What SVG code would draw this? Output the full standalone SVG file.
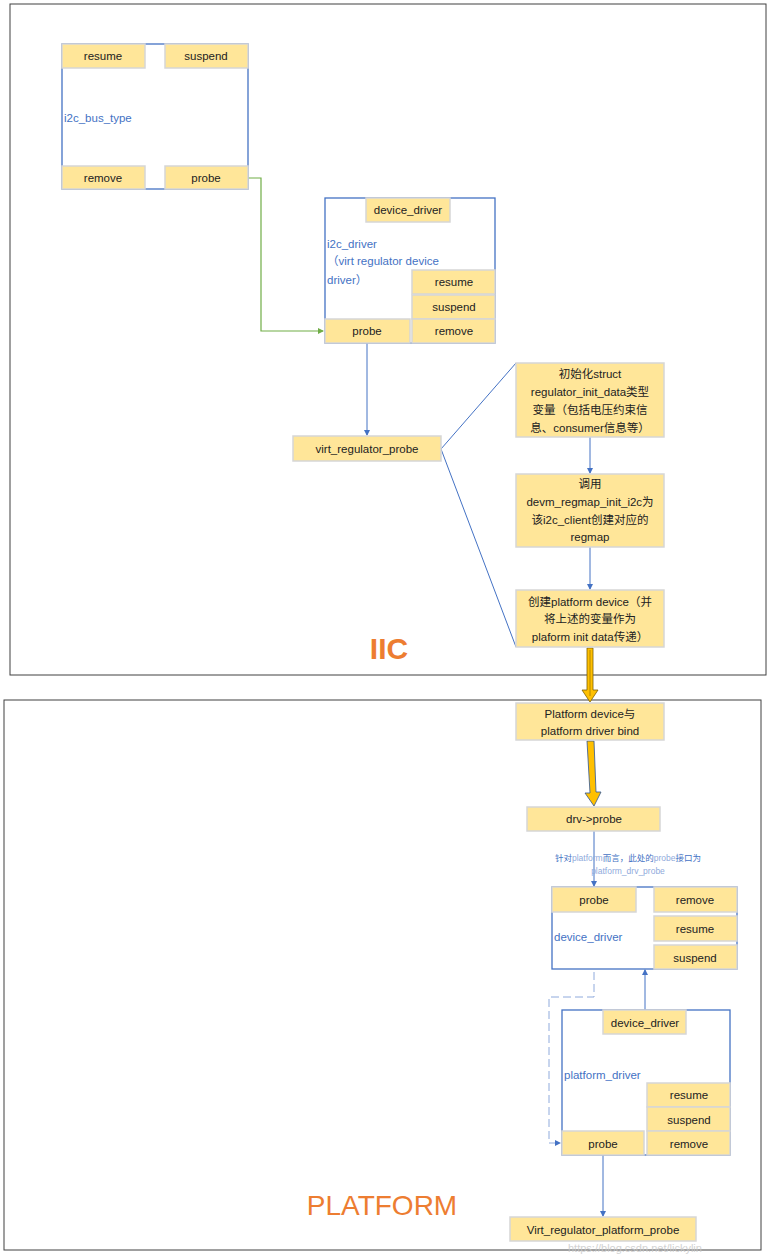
<svg xmlns="http://www.w3.org/2000/svg" width="769" height="1254" viewBox="0 0 769 1254">
<defs>
<style>
.frame{fill:none;stroke:#404040;stroke-width:1}
.cont{fill:#fff;stroke:#4472C4;stroke-width:1.3}
.box{fill:#FFE699;stroke:#D6D6D6;stroke-width:1.5}
.t{font-family:"Liberation Sans","Noto Sans CJK SC",sans-serif;font-size:11.5px;fill:#222;text-anchor:middle}
.lbl{font-family:"Liberation Sans","Noto Sans CJK SC",sans-serif;font-size:11.5px;fill:#4472C4}
.ln{fill:none;stroke:#4472C4;stroke-width:1}
</style>
<marker id="a" markerWidth="6" markerHeight="6" refX="5" refY="3" orient="auto" markerUnits="userSpaceOnUse"><path d="M0,0 L6,3 L0,6 z" fill="#4472C4"/></marker>
<marker id="g" markerWidth="6" markerHeight="6" refX="5" refY="3" orient="auto" markerUnits="userSpaceOnUse"><path d="M0,0 L6,3 L0,6 z" fill="#70AD47"/></marker>
</defs>
<rect width="769" height="1254" fill="#fff"/>
<rect class="frame" x="10" y="4" width="756" height="671"/>
<rect class="frame" x="4" y="700" width="757" height="550"/>
<text x="389" y="659" font-family="Liberation Sans,sans-serif" font-size="30" font-weight="bold" fill="#ED7D31" text-anchor="middle">IIC</text>
<text x="382" y="1215" font-family="Liberation Sans,sans-serif" font-size="28" fill="#ED7D31" text-anchor="middle">PLATFORM</text>

<g id="connectors">
<polyline points="248,178 261,178 261,331 323,331" fill="none" stroke="#70AD47" stroke-width="1.2" marker-end="url(#g)"/>
<line class="ln" x1="367" y1="343" x2="367" y2="435" marker-end="url(#a)"/>
<line class="ln" x1="441" y1="449" x2="516" y2="363"/>
<line class="ln" x1="441" y1="449" x2="516" y2="647"/>
<line class="ln" x1="590" y1="437" x2="590" y2="473" marker-end="url(#a)"/>
<line class="ln" x1="590" y1="547" x2="590" y2="589" marker-end="url(#a)"/>
<path d="M587,648 L593,648 L593,690 L598,690 L590,702 L582,690 L587,690 z" fill="#FFC000" stroke="#7F6000" stroke-width="0.8"/>
<line x1="590" y1="650" x2="590" y2="696" stroke="#7F6000" stroke-width="0.6"/>
<path d="M587,741 L594,741 L596,792 L601,792 L594,806 L585,793 L590,793 z" fill="#FFC000" stroke="#2F5597" stroke-width="0.8"/>
<line class="ln" x1="594" y1="831" x2="594" y2="886" marker-end="url(#a)"/>
<line class="ln" x1="645" y1="1010" x2="645" y2="970" marker-end="url(#a)"/>
<polyline points="594,912 594,997 549,997 549,1143 560,1143" fill="none" stroke="#8FAADC" stroke-width="1" stroke-dasharray="8,4" marker-end="url(#a)"/>
<line class="ln" x1="603" y1="1155" x2="603" y2="1216" marker-end="url(#a)"/>
<text x="628" y="861" font-family="Liberation Sans,Noto Sans CJK SC,sans-serif" font-size="8.5" text-anchor="middle"><tspan fill="#4472C4">针对</tspan><tspan fill="#8FAADC">platform</tspan><tspan fill="#4472C4">而言，此处的</tspan><tspan fill="#8FAADC">probe</tspan><tspan fill="#4472C4">接口为</tspan></text>
<text x="628" y="874" font-family="Liberation Sans,sans-serif" font-size="8.5" fill="#8FAADC" text-anchor="middle">platform_drv_probe</text>
</g>

<g id="i2c_bus_type">
<rect class="cont" x="62" y="44" width="186" height="145"/>
<text class="lbl" x="64" y="122">i2c_bus_type</text>
<rect class="box" x="62" y="44" width="83" height="24"/><text class="t" x="103" y="60">resume</text>
<rect class="box" x="165" y="44" width="83" height="24"/><text class="t" x="206" y="60">suspend</text>
<rect class="box" x="62" y="166" width="83" height="23"/><text class="t" x="103" y="182">remove</text>
<rect class="box" x="165" y="166" width="83" height="23"/><text class="t" x="206" y="182">probe</text>
</g>

<g id="i2c_driver">
<rect class="cont" x="325" y="198" width="170" height="145"/>
<text class="lbl" x="327" y="248">i2c_driver</text>
<text class="lbl" x="327" y="265">（virt regulator device</text>
<text class="lbl" x="327" y="284">driver）</text>
<rect class="box" x="366" y="198" width="84" height="24"/><text class="t" x="408" y="214">device_driver</text>
<rect class="box" x="412" y="270" width="83" height="24"/><text class="t" x="454" y="286">resume</text>
<rect class="box" x="412" y="295" width="83" height="24"/><text class="t" x="454" y="311">suspend</text>
<rect class="box" x="412" y="319" width="83" height="24"/><text class="t" x="454" y="335">remove</text>
<rect class="box" x="325" y="319" width="85" height="24"/><text class="t" x="367" y="335">probe</text>
</g>

<g id="virt_regulator_probe"><rect class="box" x="293" y="436" width="148" height="25"/><text class="t" x="367" y="453">virt_regulator_probe</text></g>

<g id="init_data"><rect class="box" x="516" y="363" width="148" height="74"/>
<text class="t" x="590" y="378">初始化struct</text><text class="t" x="590" y="396">regulator_init_data类型</text><text class="t" x="590" y="414">变量（包括电压约束信</text><text class="t" x="590" y="432">息、consumer信息等）</text></g>

<g id="regmap"><rect class="box" x="516" y="474" width="148" height="73"/>
<text class="t" x="590" y="488">调用</text><text class="t" x="590" y="506">devm_regmap_init_i2c为</text><text class="t" x="590" y="524">该i2c_client创建对应的</text><text class="t" x="590" y="541">regmap</text></g>

<g id="create_pdev"><rect class="box" x="516" y="590" width="148" height="57"/>
<text class="t" x="590" y="606">创建platform device（并</text><text class="t" x="590" y="623">将上述的变量作为</text><text class="t" x="590" y="641">plaform init data传递）</text></g>

<g id="bind"><rect class="box" x="516" y="703" width="148" height="37"/>
<text class="t" x="590" y="718">Platform device与</text><text class="t" x="590" y="735">platform driver bind</text></g>

<g id="drv_probe"><rect class="box" x="527" y="807" width="133" height="24"/><text class="t" x="594" y="823">drv-&gt;probe</text></g>

<g id="device_driver">
<rect class="cont" x="552" y="887" width="185" height="82"/>
<text class="lbl" x="554" y="941">device_driver</text>
<rect class="box" x="552" y="887" width="84" height="25"/><text class="t" x="594" y="904">probe</text>
<rect class="box" x="654" y="887" width="83" height="25"/><text class="t" x="695" y="904">remove</text>
<rect class="box" x="654" y="916" width="83" height="25"/><text class="t" x="695" y="933">resume</text>
<rect class="box" x="654" y="945" width="83" height="24"/><text class="t" x="695" y="962">suspend</text>
</g>

<g id="platform_driver">
<rect class="cont" x="562" y="1010" width="168" height="145"/>
<text class="lbl" x="564" y="1079">platform_driver</text>
<rect class="box" x="603" y="1010" width="83" height="24"/><text class="t" x="645" y="1027">device_driver</text>
<rect class="box" x="647" y="1083" width="83" height="24"/><text class="t" x="689" y="1099">resume</text>
<rect class="box" x="647" y="1107" width="83" height="24"/><text class="t" x="689" y="1124">suspend</text>
<rect class="box" x="647" y="1131" width="83" height="24"/><text class="t" x="689" y="1148">remove</text>
<rect class="box" x="562" y="1131" width="82" height="24"/><text class="t" x="603" y="1148">probe</text>
</g>

<g id="virt_platform_probe"><rect class="box" x="510" y="1217" width="186" height="24"/><text class="t" x="603" y="1234">Virt_regulator_platform_probe</text></g>
<text x="568" y="1252" font-family="Liberation Sans,sans-serif" font-size="11" fill="#C8C8C8" opacity="0.8">https://blog.csdn.net/lickylin</text>
</svg>
